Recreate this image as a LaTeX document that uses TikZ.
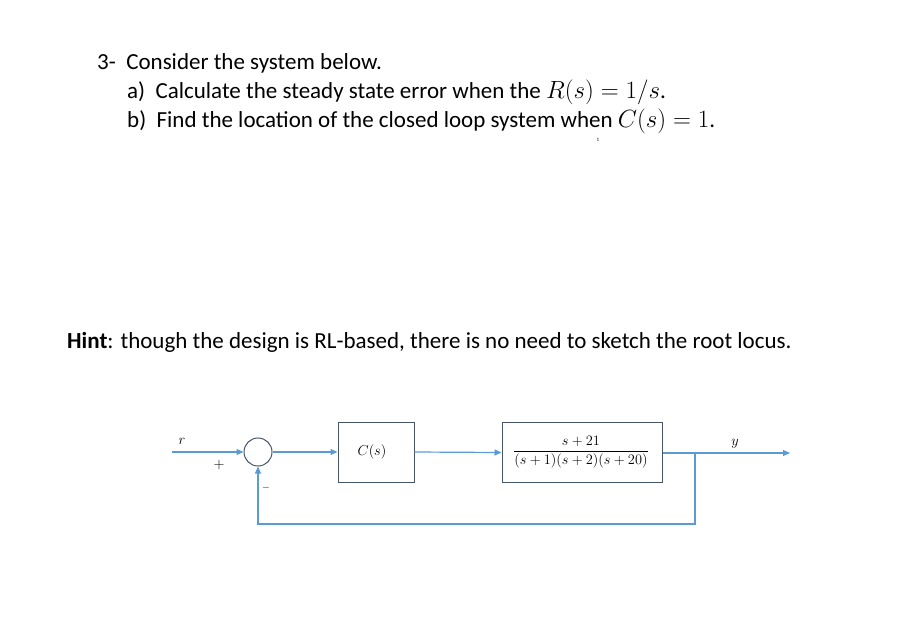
\documentclass[tikz,border=0pt]{standalone}
\usepackage{amsmath}
\usepackage{fontspec}
\setmainfont{Carlito}
\usetikzlibrary{arrows.meta}
\definecolor{lb}{RGB}{91,155,213}
\definecolor{bx}{RGB}{70,85,105}
\tikzset{
 txt/.style={anchor=base west,inner sep=0pt,font=\fontsize{23}{26}\selectfont},
 blk/.style={draw=bx,line width=1pt,minimum height=60pt},
 sig/.style={draw=lb,line width=1.2pt},
 arr/.style={sig,-{Triangle[length=7pt,width=6pt]}},
 lab/.style={font=\fontsize{13.5}{15}\selectfont,inner sep=0pt}
}
\begin{document}
\begin{tikzpicture}[x=1pt,y=-1pt]
\useasboundingbox (0,0) rectangle (913,621);
\node[txt] (l1) at (97,69) {3-\ \ Consider the system below.};
\node[txt] (l2) at (127,98) {a)\ \ Calculate the steady state error when the $R(s)=1/s$.};
\node[txt] (l3) at (127,127) {b)\ \ Find the location of the closed loop system when $C(s)=1$.};
\node[lab,font=\tiny] (one) at (598,140) {1};
\node[txt] (hint) at (67,348) {\textbf{Hint}: though the design is RL-based, there is no need to sketch the root locus.};
\coordinate (in) at (172,452);
\node[circle,draw=bx,line width=1pt,minimum size=28pt,inner sep=0pt] (sum) at (258,452) {};
\node[blk,minimum width=76pt] (c) at (376,452) {};
\node[lab] (cl) at (372,452) {$C(s)$};
\node[blk,minimum width=160pt] (g) at (582,452.5) {};
\node[lab] (gl) at (581,452) {$\dfrac{s+21}{(s+1)(s+2)(s+20)}$};
\coordinate (out) at (790,453);
\coordinate (br) at (695,453);
\coordinate (fb) at (695,524);
\coordinate (fl) at (258,524);
\node[lab] (r) at (182,441) {$r$};
\node[lab] (y) at (735,444) {$y$};
\node[lab] (plus) at (219,465) {$+$};
\node[lab,font=\bfseries] (minus) at (266,488) {$-$};
\draw[arr] (in) -- (sum.west);
\draw[arr] (sum.east) -- (c.west);
\draw[arr] (c.east) -- (g.west);
\draw[arr] (g.east |- out) -- (out);
\draw[arr] (br) -- (fb) -- (fl) -- (sum.south);
\end{tikzpicture}
\end{document}
